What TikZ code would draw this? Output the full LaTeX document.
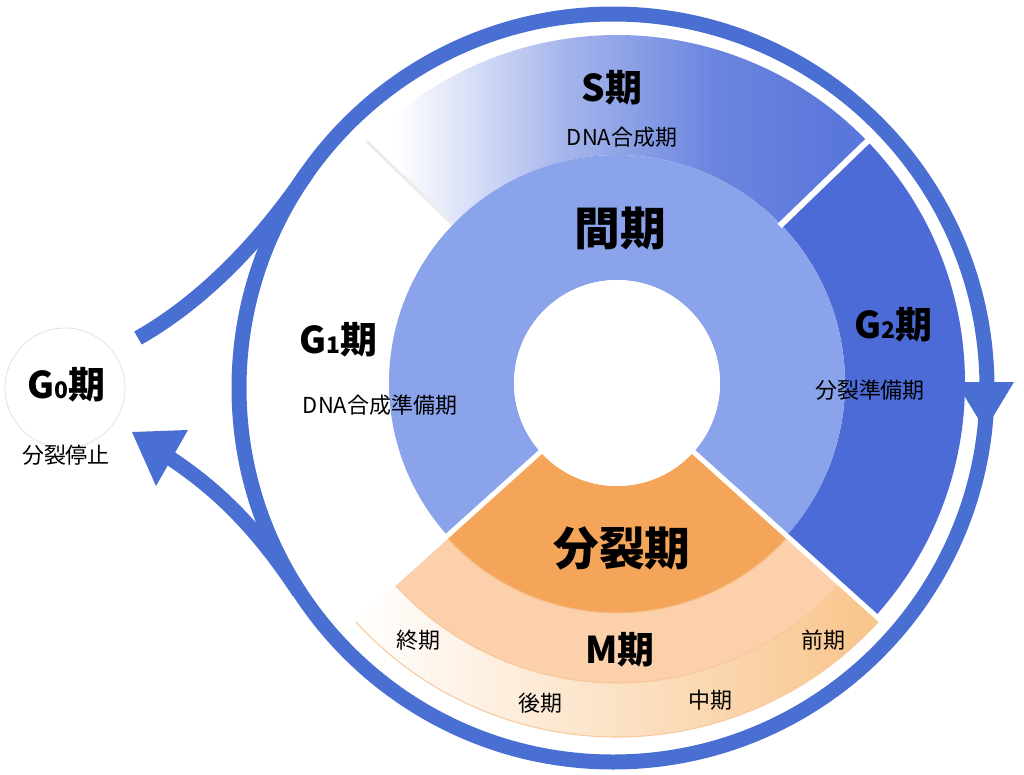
\documentclass[tikz,border=0pt]{standalone}
\usepackage{fontspec}
\newfontfamily\cjk{Noto Sans CJK JP}
\definecolor{arrowblue}{HTML}{4A6FD2}
\definecolor{gtwo}{HTML}{4D6BD6}
\definecolor{sblue}{HTML}{5A77DB}
\definecolor{inner}{HTML}{8AA3EA}
\definecolor{orA}{HTML}{F5A55A}
\definecolor{orB}{HTML}{FBD0AB}
\definecolor{orC}{HTML}{F8C48A}
\pgfdeclarehorizontalshading{sshade}{100bp}{color(0bp)=(white); color(28bp)=(white); color(45bp)=(sblue!55); color(60bp)=(sblue!90); color(72bp)=(sblue); color(100bp)=(sblue)}
\newcommand\annsec[5]{\path[#1] (#2:#4) arc[start angle=#2,end angle=#3,radius=#4] -- (#3:#5) arc[start angle=#3,end angle=#2,radius=#5] -- cycle;}
\tikzset{
 lbl/.style={font=\cjk, text=black, inner sep=0pt},
 big/.style={lbl, font=\cjk\bfseries\fontsize{26}{28}\selectfont},
 mid/.style={lbl, font=\cjk\bfseries\fontsize{21}{24}\selectfont},
 sml/.style={lbl, font=\cjk\fontsize{12.5}{14}\selectfont},
 cyc/.style={draw=arrowblue, line width=0.3cm},
}
\begin{document}
\begin{tikzpicture}[x=0.02cm,y=-0.02cm]
\useasboundingbox (0,0) rectangle (1024,774);
\fill[white] (0,0) rectangle (1024,774);
% outer cycle arrow
\draw[cyc] (613,388) circle[radius=374];
\coordinate (tb) at (306.6,173.5);
\coordinate (te) at (138,338);
\draw[cyc] (tb) .. controls (262,239) and (205,300) .. (te);
\coordinate (bb) at (299,592);
\coordinate (be) at (170,458);
\draw[cyc] (bb) .. controls (255,525) and (215,488) .. (be);
\fill[arrowblue] (132,432) -- (188,430) -- (156,486) -- cycle;
\fill[arrowblue] (956,382) -- (1014,382) -- (985,430) -- cycle;
% rings
\begin{scope}[shift={(617,383)}, y=0.02cm]
 \annsec{shade, shading=sshade}{44}{136}{348}{228}
 \annsec{fill=gtwo}{-42}{44}{348}{228}
 \annsec{fill=inner}{318}{582}{228}{103}
 \annsec{fill=orA}{222}{318}{230}{103}
 \annsec{fill=orB, draw=orA!70, line width=0.6pt}{222}{318}{300}{230}
 \annsec{shade, left color=white, right color=orC, draw=orA!60, line width=0.6pt}{222}{318}{354}{300}
 \draw[white, line width=0.12cm] (44:226) -- (44:350);
 \draw[gray!15, line width=0.06cm] (136:228) -- (136:348);
 \draw[white, line width=0.1cm] (222:100) -- (222:356);
 \draw[white, line width=0.1cm] (318:100) -- (318:356);
 \fill[white] (0,0) circle[radius=103];
\end{scope}
% G0
\node[circle, draw=gray!25, fill=white, minimum size=2.4cm] (g0c) at (65,388) {};
\node[mid] (g0) at (66,385) {G{\fontsize{13}{14}\selectfont 0}期};
\node[sml] (g0s) at (66,455) {分裂停止};
% labels
\node[mid] (s) at (612,88) {S期};
\node[sml] (ss) at (622,137) {DNA合成期};
\node[big] (kan) at (620,228) {間期};
\node[mid] (g1) at (338,340) {G{\fontsize{13}{14}\selectfont 1}期};
\node[sml] (g1s) at (380,405) {DNA合成準備期};
\node[mid] (g2) at (893,325) {G{\fontsize{13}{14}\selectfont 2}期};
\node[sml] (g2s) at (870,390) {分裂準備期};
\node[big] (bun) at (622,548) {分裂期};
\node[mid] (m) at (620,650) {M期};
\node[sml] (p1) at (418,640) {終期};
\node[sml] (p2) at (823,640) {前期};
\node[sml] (p3) at (540,703) {後期};
\node[sml] (p4) at (710,700) {中期};
\end{tikzpicture}
\end{document}
